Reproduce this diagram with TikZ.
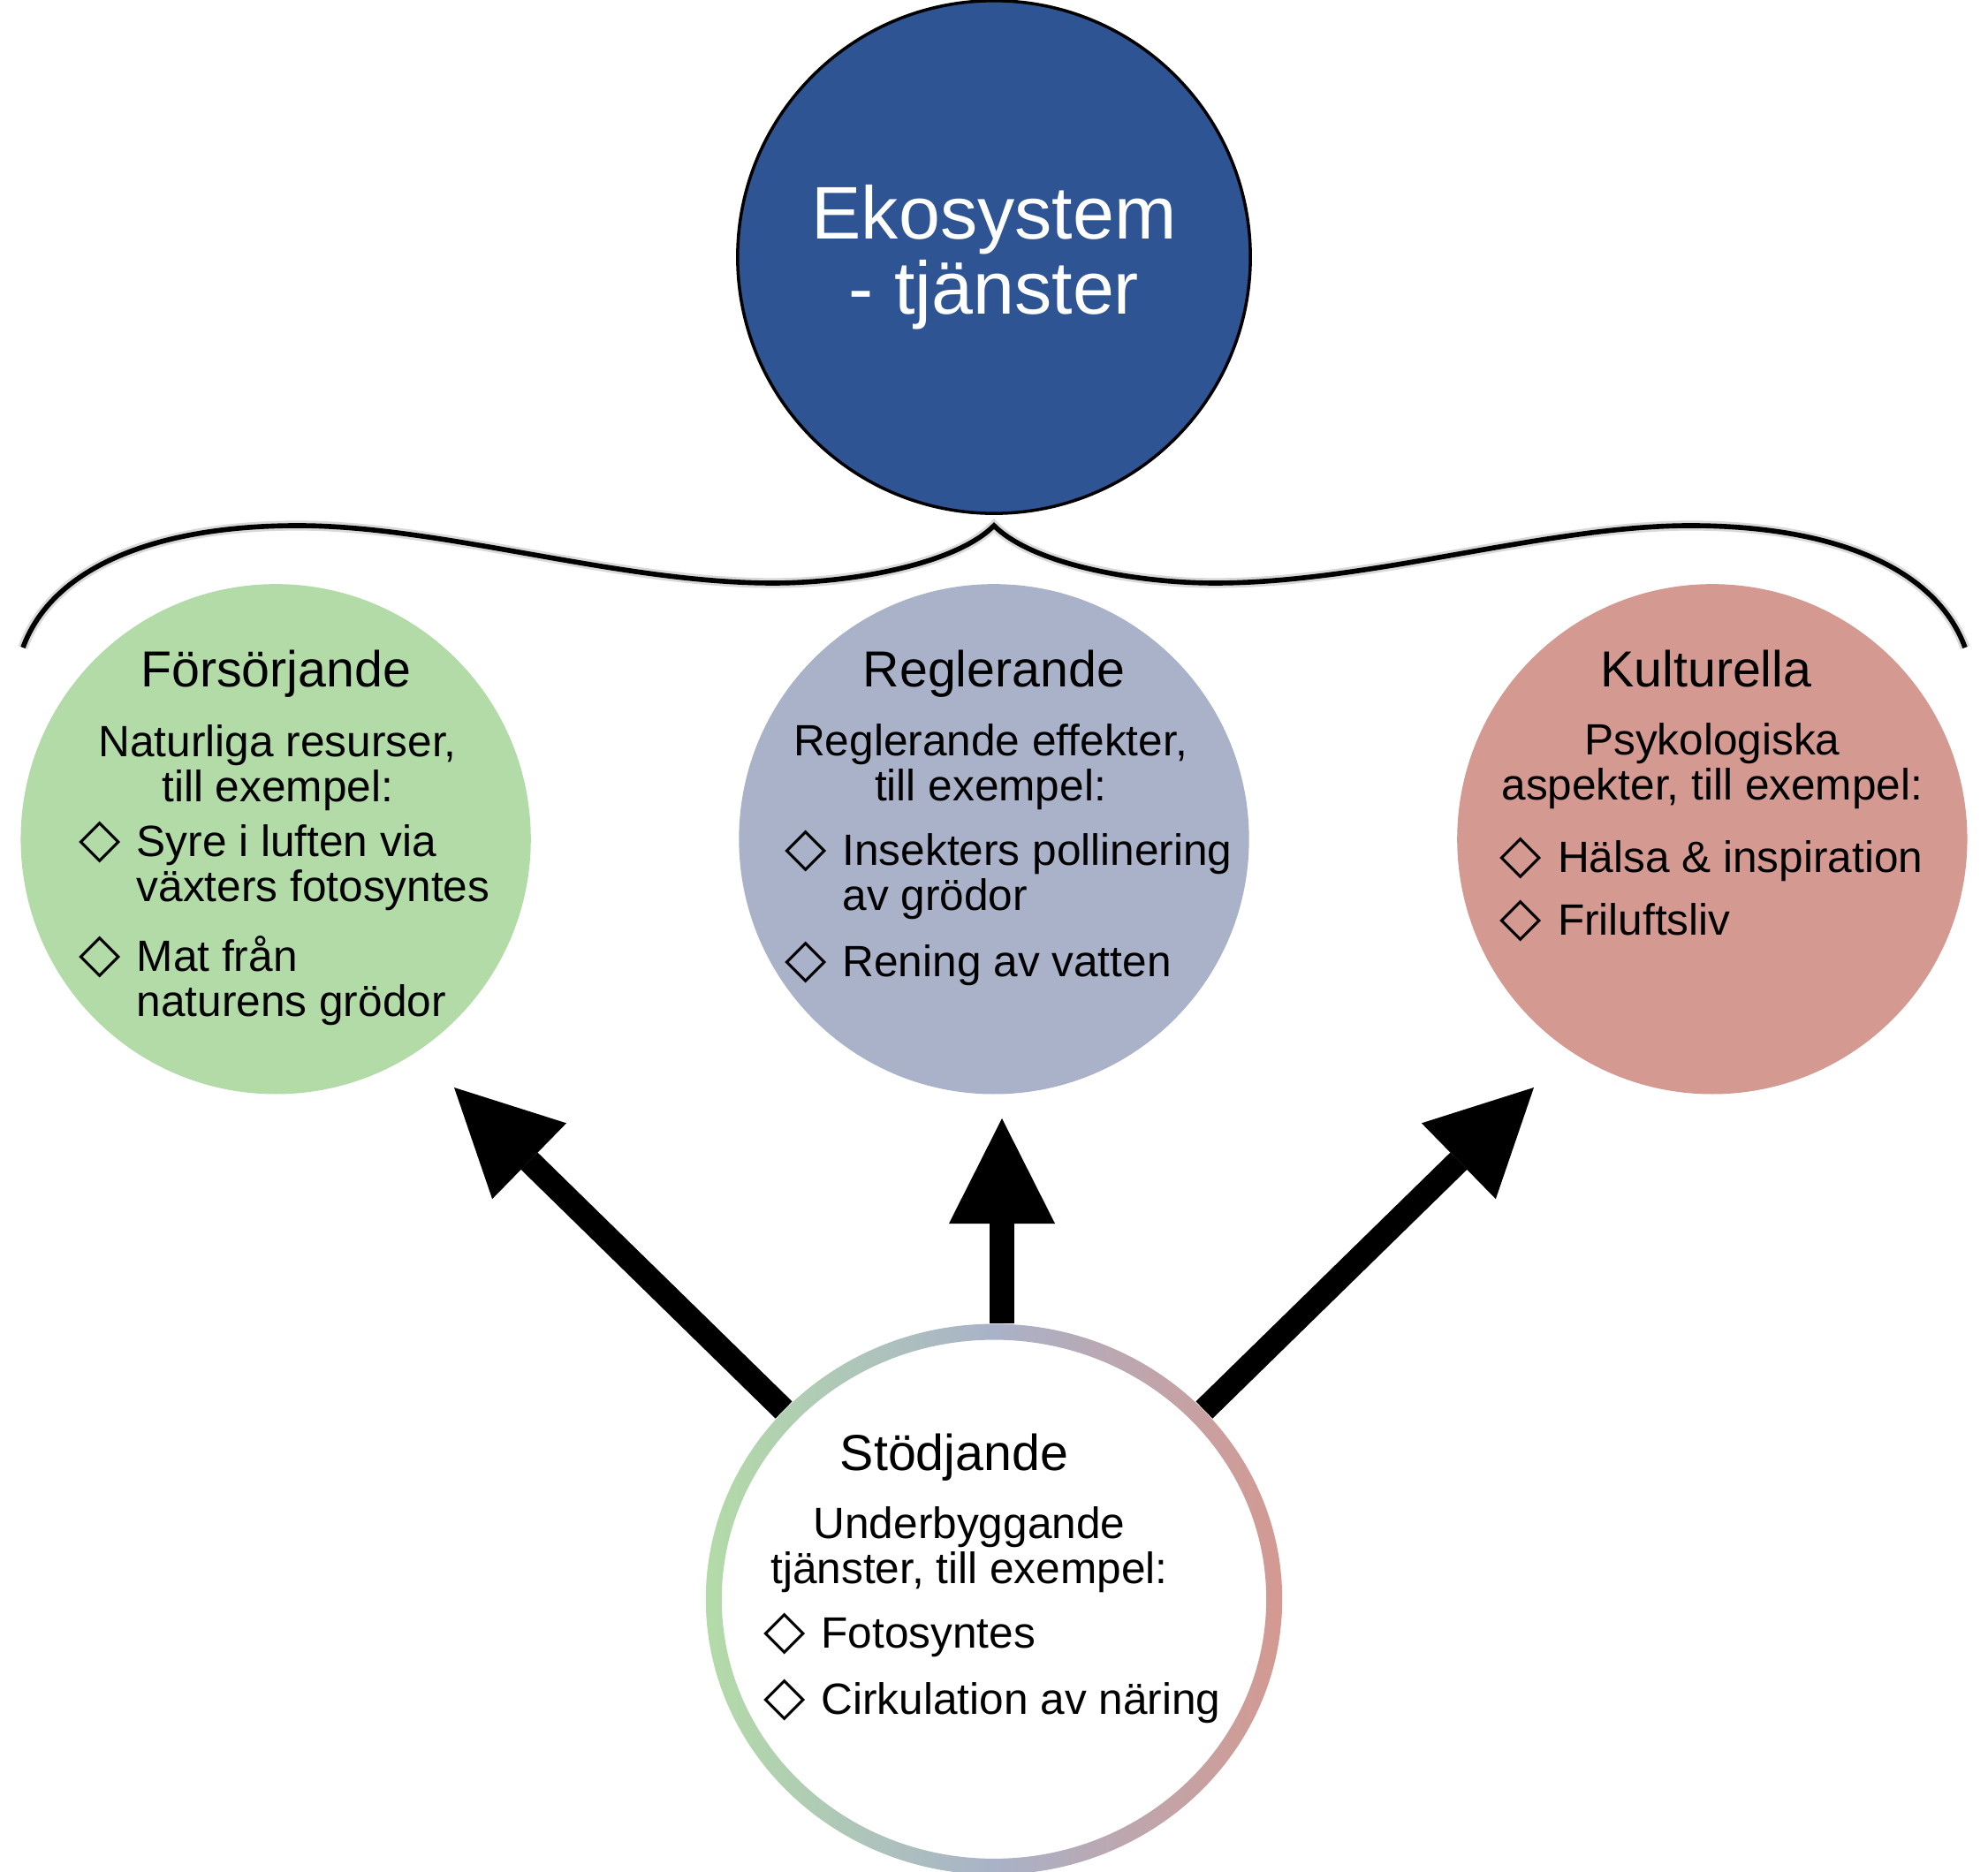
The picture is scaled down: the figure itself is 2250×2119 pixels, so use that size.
\documentclass[tikz,border=0pt]{standalone}
\usepackage{fontspec}
\setmainfont{Liberation Sans}
\newfontfamily\symfont{DejaVu Sans}
\usepackage{tikz}
\usetikzlibrary{shapes.geometric, arrows.meta, positioning}
\definecolor{ekoblue}{RGB}{46,84,148}
\definecolor{ekogreen}{RGB}{179,219,168}
\definecolor{ekogrey}{RGB}{169,178,200}
\definecolor{ekored}{RGB}{212,153,145}
\tikzset{
    ekocircle/.style={circle, fill=#1, minimum size=5.77cm, inner sep=0pt},
    ekotitle/.style={circle, draw=black, fill=ekoblue, line width=1pt, minimum size=5.8cm, inner sep=0pt, align=center, text=white, font=\fontsize{24}{24}\selectfont},
    ekohead/.style={anchor=base, inner sep=0pt, font=\fontsize{16.3}{19}\selectfont},
    ekotext/.style={anchor=base, inner sep=0pt, font=\fontsize{14.1}{14.4}\selectfont},
    ekolist/.style={anchor=base west, inner sep=0pt, font=\fontsize{14.1}{14.4}\selectfont},
    ekoarrow/.style={-{Triangle[length=1.19cm, width=1.2cm, line width=0pt]}, line width=0.27cm},
    ekobrace/.style={line width=1.6pt, preaction={draw=black!15, line width=3.2pt}}
}
\newcommand{\ekobul}{\makebox[18.5pt][l]{\smash{\fontsize{17.5}{17.5}\symfont ◇}}}

\begin{document}
\begin{tikzpicture}[x=0.01cm, y=-0.01cm]
\useasboundingbox (0,0) rectangle (2250,2119);

\draw[ekobrace] (26,733) .. controls (60,640) and (180,595) .. (337,595)
    .. controls (500,595) and (700,660) .. (875,660)
    .. controls (960,660) and (1080,640) .. (1125,595)
    .. controls (1170,640) and (1290,660) .. (1375,660)
    .. controls (1550,660) and (1750,595) .. (1913,595)
    .. controls (2070,595) and (2190,640) .. (2224,733);

\node[ekotitle] (e) at (1125,291) {Ekosystem\\- tjänster};
\node[ekocircle=ekogrey, below=0.775cm of e] (r) {};
\node[ekocircle=ekogreen, left=2.34cm of r] (f) {};
\node[ekocircle=ekored, right=2.34cm of r] (k) {};
\node[ellipse, fill=white, minimum width=6.52cm, minimum height=6.23cm, inner sep=0pt, below=2.585cm of r] (s) {};

\node[ekohead] (fh) at ([yshift=1.72cm]f.center) {Försörjande};
\node[ekotext] (ft) at ([xshift=0.02cm, yshift=0.93cm]f.center) {\begin{tabular}[t]{@{}c@{}}Naturliga resurser,\\till exempel:\end{tabular}};
\node[ekolist] (fl) at ([xshift=-2.23cm, yshift=-0.2cm]f.center) {\begin{tabular}[t]{@{}l@{}l@{}}\ekobul & Syre i luften via\\ & växters fotosyntes\\[6.6pt] \ekobul & Mat från\\ & naturens grödor\end{tabular}};

\node[ekohead] (rh) at ([yshift=1.72cm]r.center) {Reglerande};
\node[ekotext] (rt) at ([xshift=-0.04cm, yshift=0.94cm]r.center) {\begin{tabular}[t]{@{}c@{}}Reglerande effekter,\\till exempel:\end{tabular}};
\node[ekolist] (rl) at ([xshift=-2.37cm, yshift=-0.3cm]r.center) {\begin{tabular}[t]{@{}l@{}l@{}}\ekobul & Insekters pollinering\\ & av grödor\\[6.6pt] \ekobul & Rening av vatten\end{tabular}};

\node[ekohead] (kh) at ([xshift=-0.07cm, yshift=1.72cm]k.center) {Kulturella};
\node[ekotext] (kt) at ([yshift=0.95cm]k.center) {\begin{tabular}[t]{@{}c@{}}Psykologiska\\aspekter, till exempel:\end{tabular}};
\node[ekolist] (kl) at ([xshift=-2.405cm, yshift=-0.38cm]k.center) {\begin{tabular}[t]{@{}l@{}l@{}}\ekobul & Hälsa \& inspiration\\[5.5pt] \ekobul & Friluftsliv\end{tabular}};

\node[ekohead] (sh) at ([xshift=-0.45cm, yshift=1.455cm]s.center) {Stödjande};
\node[ekotext] (st) at ([xshift=-0.28cm, yshift=0.685cm]s.center) {\begin{tabular}[t]{@{}c@{}}Underbyggande\\tjänster, till exempel:\end{tabular}};
\node[ekolist] (sl) at ([xshift=-2.61cm, yshift=-0.555cm]s.center) {\begin{tabular}[t]{@{}l@{}l@{}}\ekobul & Fotosyntes\\[6.6pt] \ekobul & Cirkulation av näring\end{tabular}};

\coordinate (ftip) at (514,1231);
\coordinate (rtip) at (1134,1266);
\coordinate (ktip) at (1736,1231);
\draw[ekoarrow] (s.138) -- (ftip);
\draw[ekoarrow] (rtip |- s.north) -- (rtip);
\draw[ekoarrow] (s.42) -- (ktip);

\shade[left color=ekogreen, right color=ekored, middle color=ekogrey, even odd rule]
    (s.center) ellipse [x radius=3.26cm, y radius=3.115cm]
    (s.center) ellipse [x radius=3.08cm, y radius=2.935cm];

\end{tikzpicture}
\end{document}
